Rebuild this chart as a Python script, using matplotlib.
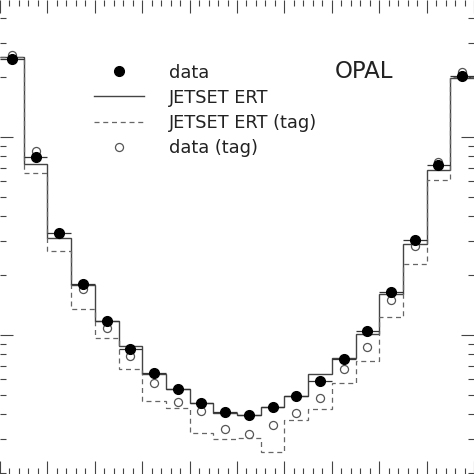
import numpy as np
import matplotlib
matplotlib.use("Agg")
from matplotlib import pyplot as plt
from matplotlib.lines import Line2D
from matplotlib.ticker import MultipleLocator, LogLocator, NullFormatter

# 20 bins in cos(theta) (log scale)
edges = np.linspace(-1.0, 1.0, 21)
centers = 0.5 * (edges[:-1] + edges[1:])

data = [24.8, 7.93, 3.27, 1.81, 1.18, 0.85, 0.643, 0.533, 0.454, 0.408,
        0.394, 0.433, 0.492, 0.586, 0.756, 1.05, 1.65, 3.02, 7.22, 20.3]
data_tag = [25.9, 8.50, 3.24, 1.71, 1.08, 0.783, 0.572, 0.459, 0.413, 0.335,
            0.316, 0.351, 0.404, 0.481, 0.674, 0.870, 1.50, 2.82, 7.48, 21.3]
jetset = [25.4, 7.31, 3.09, 1.79, 1.18, 0.880, 0.636, 0.533, 0.454, 0.404,
          0.394, 0.433, 0.492, 0.636, 0.765, 1.01, 1.61, 2.88, 6.81, 19.9]
jetset_tag = [25.4, 6.58, 2.66, 1.35, 0.966, 0.674, 0.464, 0.428, 0.320, 0.298,
              0.302, 0.257, 0.372, 0.423, 0.572, 0.739, 1.23, 2.28, 6.06, 20.1]

labels = ["data", "JETSET ERT", "JETSET ERT (tag)", "data (tag)"]

fig = plt.figure(figsize=(4.74, 4.74), dpi=100)
ax = fig.add_axes([0, 0, 1, 1])

ax.stairs(jetset, edges, baseline=None, color="#444444", lw=1.0, zorder=2)
ax.stairs(jetset_tag, edges, baseline=None, color="#666666", lw=0.9,
          linestyle=(0, (4, 3)), zorder=2)
ax.plot(centers, data_tag, "o", mfc="white", mec="#555555", ms=5.8, mew=0.9,
        zorder=3)
ax.errorbar(centers, data, xerr=0.05, fmt="o", color="black", ms=7.0,
            ecolor="#333333", elinewidth=0.9, capsize=0, zorder=4)

ax.set_xlim(-1, 1)
ax.set_yscale("log")
ax.set_ylim(0.1986, 49.2)

ax.xaxis.set_major_locator(MultipleLocator(0.2))
ax.xaxis.set_minor_locator(MultipleLocator(0.04))
ax.yaxis.set_major_locator(LogLocator(base=10))
ax.yaxis.set_minor_locator(LogLocator(base=10, subs=np.arange(2, 10)))
ax.yaxis.set_minor_formatter(NullFormatter())
ax.tick_params(which="both", direction="in", top=True, right=True,
               bottom=True, left=True, labelbottom=False, labelleft=False,
               color="#444444", width=0.8)
ax.tick_params(which="major", length=9.2)
ax.tick_params(which="minor", length=4.6)
for s in ax.spines.values():
    s.set_visible(False)

# legend with proxy handles
handles = [
    Line2D([], [], ls="none", marker="o", color="black", ms=7.0),
    Line2D([], [], color="#444444", lw=1.0),
    Line2D([], [], color="#666666", lw=0.9, linestyle=(0, (4, 3))),
    Line2D([], [], ls="none", marker="o", mfc="white", mec="#555555", ms=5.8, mew=0.9),
]
leg = ax.legend(handles, labels, loc="upper left", bbox_to_anchor=(0.198, 0.866),
                frameon=False, fontsize=12.8, handlelength=2.8, handletextpad=1.4,
                labelspacing=0.4, borderpad=0, borderaxespad=0)
for t in leg.get_texts():
    t.set_color("#222222")

ax.text(0.768, 0.85, "OPAL", transform=ax.transAxes, ha="center", va="center",
        fontsize=16.5, color="#222222")

fig.savefig("out.png", dpi=100)
